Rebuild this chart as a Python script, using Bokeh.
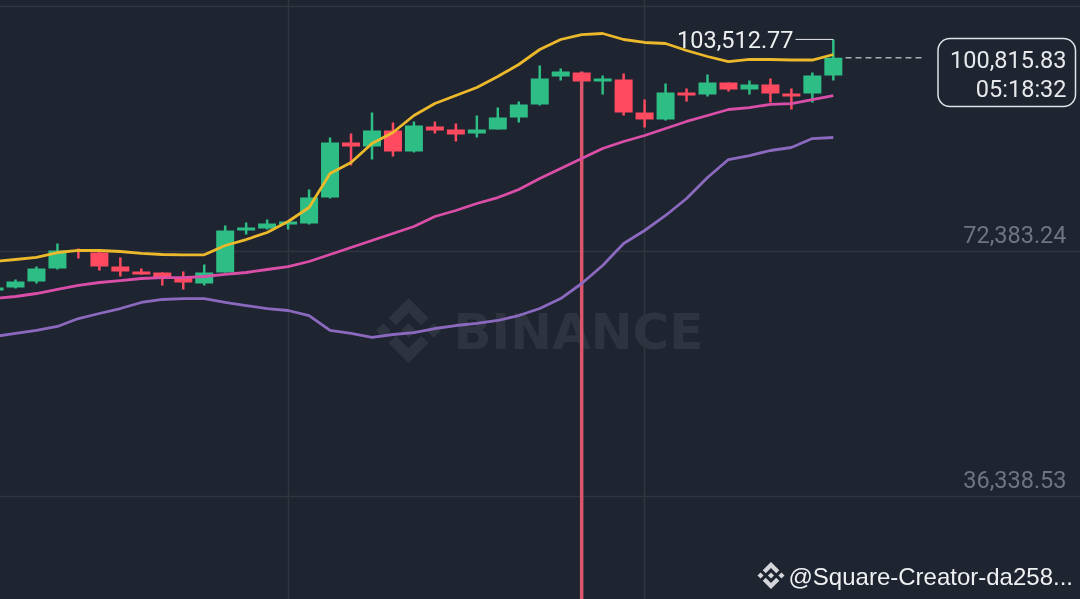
from bokeh.plotting import figure
from bokeh.models import ColumnDataSource, FixedTicker, Range1d, BoxAnnotation
from bokeh.core.properties import value
from bokeh.embed import file_html
from bokeh.resources import INLINE

# ---- data (prices) ----
opens = [66570, 67010, 67900, 69810, 72530, 72160, 70100, 69370, 69220, 68480, 67600, 69220, 75400, 75690, 76280, 76430, 80250, 88340, 87760, 90110, 87020, 90700, 90260, 89670, 90260, 92020, 93940, 98060, 98640, 97320, 97610, 92760, 91730, 95700, 95410, 97170, 96140, 96880, 95550, 95550, 98200]
highs = [67160, 68190, 70100, 73490, 72750, 72460, 71430, 69810, 69220, 69370, 70400, 76130, 76580, 77020, 76720, 81430, 89080, 89670, 92760, 91290, 91440, 91440, 91140, 92320, 93490, 94380, 99670, 99230, 98790, 98200, 98500, 94670, 97030, 96290, 98350, 97170, 97470, 97760, 96290, 98640, 103512.77]
lows = [66420, 66870, 67600, 69660, 71280, 69510, 68630, 68930, 67310, 66720, 67310, 69220, 74810, 75550, 75550, 76280, 80110, 84960, 85840, 86290, 86870, 89670, 88490, 89080, 90260, 91290, 93790, 97470, 15000, 95410, 92320, 90550, 91580, 94380, 95110, 95850, 95410, 94230, 93200, 94230, 97470]
closes = [67010, 67900, 69810, 72460, 72310, 70100, 69370, 68930, 68480, 67750, 69220, 75400, 75840, 76430, 76720, 80250, 88340, 87760, 90110, 87020, 90850, 90110, 89520, 90260, 92020, 93940, 97760, 98790, 97320, 97760, 92760, 91730, 95700, 95260, 97170, 96140, 96880, 95550, 95110, 98200, 100815.83]
boll_upper = [70840, 71130, 71430, 72160, 72460, 72460, 72310, 72020, 71870, 71820, 71820, 73190, 74070, 75100, 76720, 78780, 83780, 85400, 88200, 89820, 92320, 94080, 95260, 96440, 98060, 99820, 102030, 103500, 104230, 104380, 103500, 103060, 102910, 101880, 101000, 100260, 100560, 100560, 100480, 100480, 101290]
boll_middle = [65390, 65690, 66130, 66720, 67310, 67750, 68040, 68340, 68480, 68480, 68630, 68930, 69220, 69660, 70100, 70840, 71870, 72900, 73930, 74960, 75990, 77460, 78340, 79370, 80250, 81430, 83050, 84520, 85990, 87460, 88490, 89380, 90410, 91440, 92320, 93200, 93490, 93940, 94080, 94670, 95260]
boll_lower = [59800, 60250, 60690, 61280, 62450, 63190, 63920, 64810, 65250, 65390, 65390, 64810, 64360, 63920, 63630, 62890, 60690, 60250, 59660, 60100, 60390, 60980, 61420, 61720, 62160, 62890, 63920, 65390, 67600, 70250, 73490, 75400, 77610, 80110, 83200, 85840, 86430, 87170, 87610, 88930, 89080]
y_ticks = [108427.95, 72383.24, 36338.53]
y_labels = ["72,383.24", "36,338.53"]
x_ticks = [13, 30]
high_label = "103,512.77"
last_label = "100,815.83"
countdown = "05:18:32"
watermark = "BINANCE"
credit = "@Square-Creator-da258..."

# ---- colours ----
BG, GRID = "#1e2430", "#30363f"
UP, DOWN = "#2ebd85", "#ff4a60"
LONG_WICK = "#d9566c"
YEL, PINK, PUR = "#ecb92c", "#d94fa8", "#8a69bf"
TICK = "#6e7480"
WM = "#2e343f"

W, H = 1080, 599
PAD = 2  # canvas overhang so its edges stay outside the window
PX0, DX = 15.0, 20.97
DY = (y_ticks[1] - y_ticks[2]) / 245.0
Y0 = y_ticks[1] + 250.5 * DY

def X(px):
    return (px - PX0) / DX

def Y(py):
    return Y0 - py * DY

p = figure(width=W + 2 * PAD, height=H + 2 * PAD, output_backend="svg", toolbar_location=None,
           x_range=Range1d(X(-PAD), X(W + PAD)), y_range=Range1d(Y(H + PAD), Y(-PAD)),
           min_border=0, background_fill_color=BG, border_fill_color=BG)
p.styles = {"position": "fixed", "left": f"-{PAD}px", "top": f"-{PAD}px"}
p.outline_line_color = None
p.xaxis.visible = False
p.yaxis.visible = False
p.xgrid.ticker = FixedTicker(ticks=x_ticks)
p.ygrid.ticker = FixedTicker(ticks=y_ticks)
for g in (p.xgrid[0], p.ygrid[0]):
    g.grid_line_color = GRID
    g.grid_line_width = 1.5

# watermark
LOGO = [
    [(38.73, 53.2), (63.3, 28.63), (87.9, 53.23), (102.2, 38.93), (63.3, 0), (24.42, 38.9)],
    [(0, 63.31), (14.3, 49.01), (28.6, 63.31), (14.3, 77.61)],
    [(38.73, 73.41), (63.3, 97.97), (87.9, 73.37), (102.21, 87.66), (63.3, 126.61), (24.42, 87.7)],
    [(98.01, 63.31), (112.31, 49.01), (126.61, 63.31), (112.31, 77.61)],
    [(77.83, 63.3), (63.3, 48.76), (48.78, 63.28), (63.3, 77.85)],
]

def logo(cx, cy, half, color):
    k = half / 63.3
    xs = [[X(cx + (a - 63.3) * k) for a, _ in s] for s in LOGO]
    ys = [[Y(cy + (b - 63.3) * k) for _, b in s] for s in LOGO]
    p.patches(xs, ys, fill_color=color, line_color=None)

logo(408, 330, 32.5, WM)
p.text([X(453)], [Y(331)], text=[watermark], text_color=WM, text_font=value("DejaVu Sans"),
       text_font_style="bold", text_font_size="50px", text_baseline="middle", text_align="left")

# candles
idx = list(range(-1, len(opens) - 1))
colors = [UP if c >= o else DOWN for o, c in zip(opens, closes)]
below = [v < Y(H) for v in lows]
src = ColumnDataSource(dict(x=idx, o=opens, h=highs, l=lows, c=closes, color=colors,
                            wick=[LONG_WICK if b else c for b, c in zip(below, colors)],
                            lw=[3.5 if b else 2.5 for b in below]))
p.segment("x", "h", "x", "l", source=src, line_color="wick", line_width="lw")
p.vbar("x", width=18 / DX, top="o", bottom="c", source=src, fill_color="color", line_color=None)

# Bollinger lines
for series, col in ((boll_lower, PUR), (boll_middle, PINK), (boll_upper, YEL)):
    p.line(idx, series, line_color=col, line_width=2.8, line_join="round")

# y labels
p.text([X(1066)] * 2, y_ticks[1:], text=y_labels, text_color=TICK, text_font=value("Roboto"),
       text_font_size="23.5px", text_align="right", text_baseline="middle", y_offset=-16.5)

# high marker
p.line([X(795), idx[-1]], [highs[-1], highs[-1]], line_color="#e8eaed", line_width=1)
p.text([X(793)], [highs[-1]], text=[high_label], text_color="#eceef0", text_font=value("Roboto"),
       text_font_size="23.5px", text_align="right", text_baseline="middle")

# last price
p.line([X(845), X(925)], [closes[-1], closes[-1]], line_color="#a9adb3", line_width=1.5, line_dash="6 4")
p.add_layout(BoxAnnotation(left=X(937.5), right=X(1075), top=Y(38), bottom=Y(106), fill_alpha=0,
                           line_color="#dfe3e8", line_width=1.5, line_alpha=1, border_radius=12))
p.text([X(1066), X(1066)], [Y(59), Y(88)], text=[last_label, countdown], text_color="#e6e8eb",
       text_font=value("Roboto"), text_font_size="23.5px", text_align="right", text_baseline="middle")

# credit
logo(770.5, 575, 13.5, "#d4d6d9")
p.text([X(788)], [Y(576)], text=[credit], text_color="#eef0f2", text_font=value("Liberation Sans"),
       text_font_size="24px", text_align="left", text_baseline="middle")

open("out.html", "w").write(file_html(p, INLINE))
